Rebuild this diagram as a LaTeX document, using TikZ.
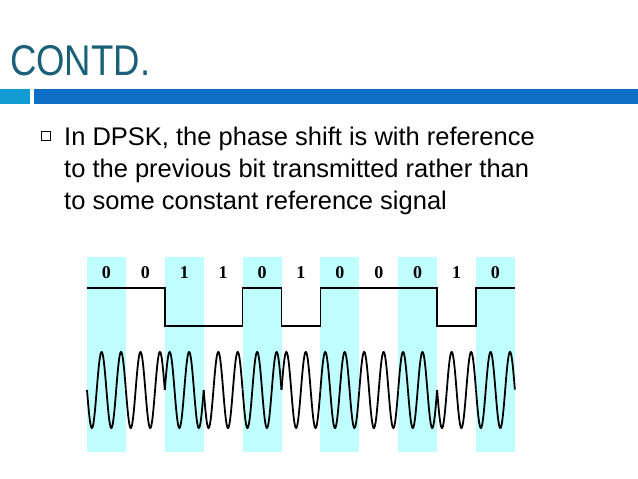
\documentclass[tikz,border=0pt]{standalone}
\usepackage{fontspec}
\setmainfont{Liberation Sans}
\definecolor{titlec}{HTML}{1B6079}
\definecolor{barl}{HTML}{139CD4}
\definecolor{bard}{HTML}{0F6FC6}
\definecolor{cyanc}{HTML}{BFFFFF}
\tikzset{bit/.style={font=\bfseries\fontspec{Liberation Serif}\fontsize{18}{18}\selectfont, anchor=center},
 line/.style={anchor=base west, inner sep=0, font=\fontsize{25.5}{30}\selectfont}}
\begin{document}
\begin{tikzpicture}[x=1pt,y=-1pt]
\useasboundingbox (0,0) rectangle (638,479);
\fill[white] (0,0) rectangle (638,479);
\node[anchor=base west, text=titlec, font=\fontsize{43}{43}\selectfont, inner sep=0, xscale=0.85] (title) at (10,75) {CONTD.};
\fill[barl] (0,89) rectangle (30,104);
\fill[bard] (34,89) rectangle (638,104);
\draw[line width=0.8pt] (41,131) rectangle (50,140);
\node[line] (t1) at (64,145) {In DPSK, the phase shift is with reference};
\node[line] (t2) at (64,177) {to the previous bit transmitted rather than};
\node[line] (t3) at (64,209) {to some constant reference signal};
\foreach \i in {0,2,4,6,8,10} \fill[cyanc] ({87+\i*38.9},257) rectangle ({87+(\i+1)*38.9},452);
\foreach \b [count=\i from 0] in {0,0,1,1,0,1,0,0,0,1,0}
  \node[bit] (b\i) at ({87+(\i+0.5)*38.9},273) {\b};
\draw[line width=1.6pt] (87,288) -- ({87+2*38.9},288) -- ({87+2*38.9},326) -- ({87+4*38.9},326) -- ({87+4*38.9},288)
 -- ({87+5*38.9},288) -- ({87+5*38.9},326) -- ({87+6*38.9},326) -- ({87+6*38.9},288) -- ({87+9*38.9},288)
 -- ({87+9*38.9},326) -- ({87+10*38.9},326) -- ({87+10*38.9},288) -- ({87+11*38.9},288);
\foreach \s [count=\i from 0] in {1,1,-1,1,1,-1,-1,-1,-1,1,1}
  \draw[line width=1.8pt] plot[domain=0:1, samples=80, smooth] ({87+(\i+\x)*38.9},{390+\s*38*sin(720*\x)});
\end{tikzpicture}
\end{document}
